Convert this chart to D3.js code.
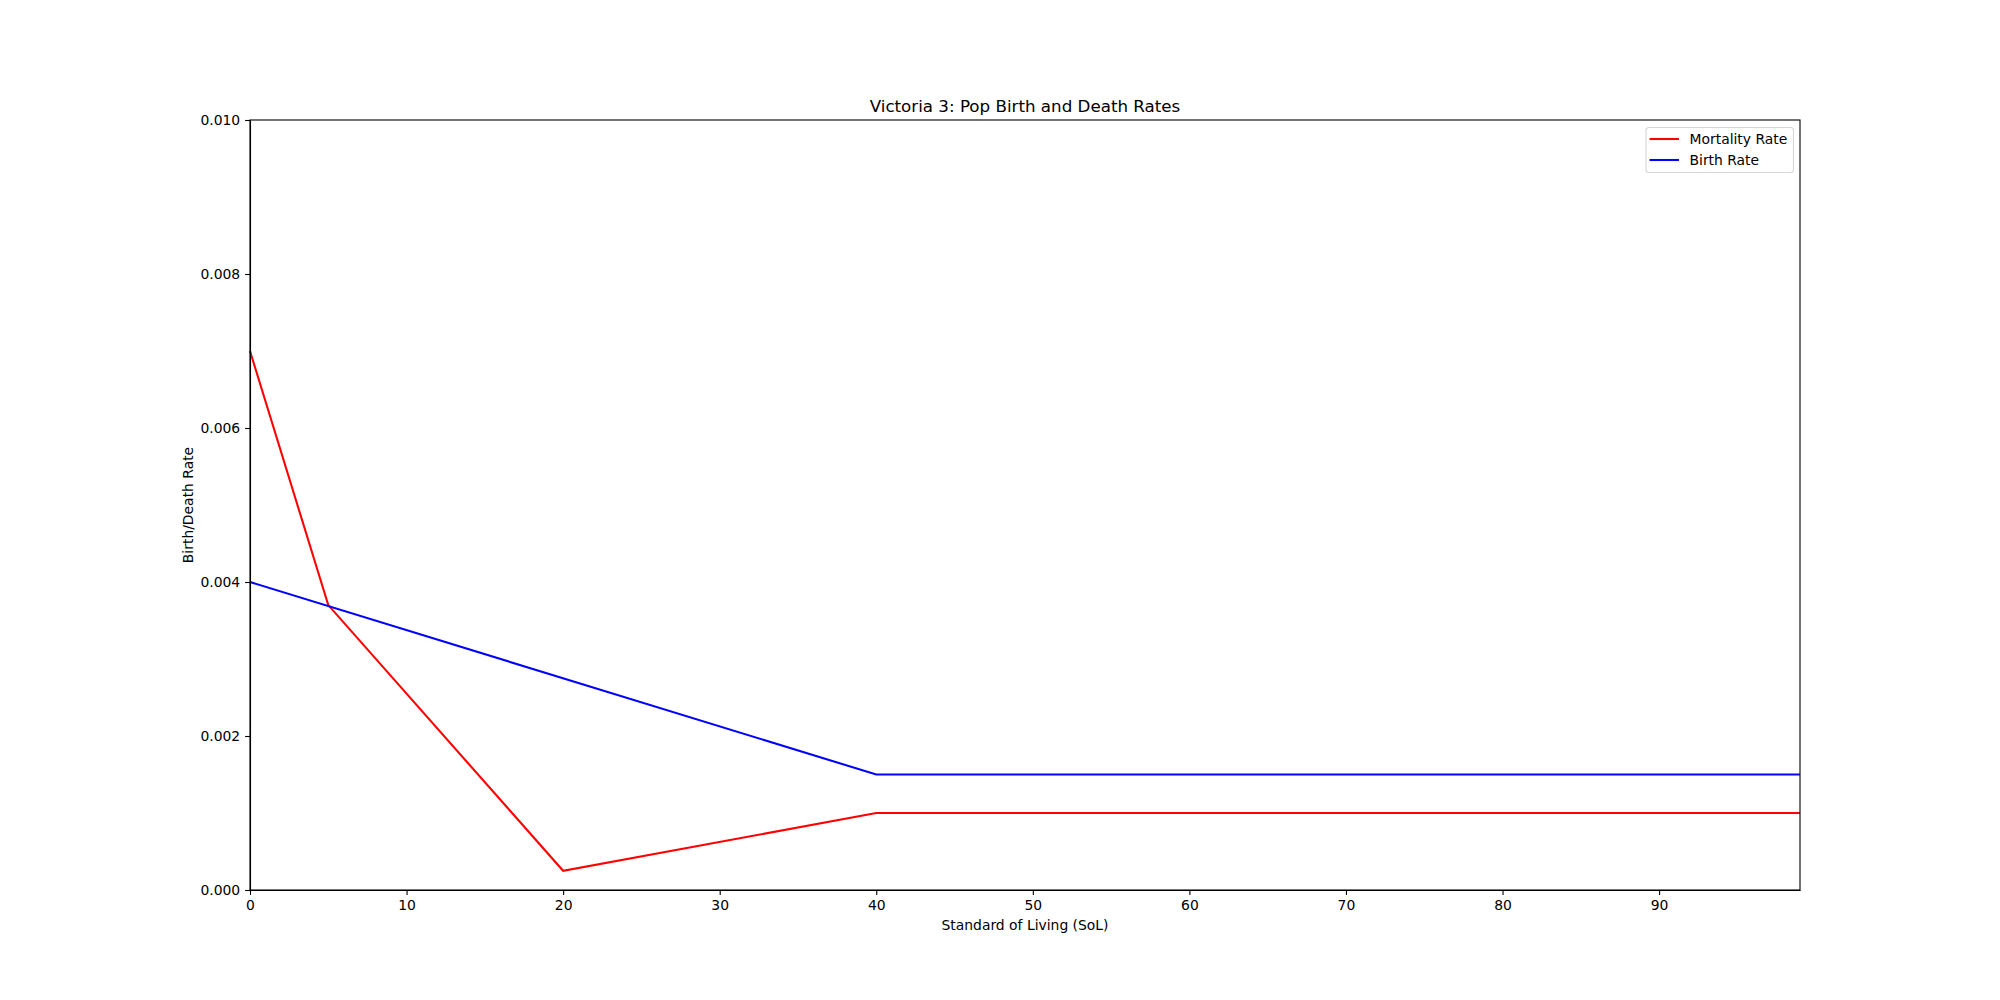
<!DOCTYPE html>
<html>
<head>
<meta charset="utf-8">
<script src="https://cdn.jsdelivr.net/npm/d3@7"></script>
<style>
  body { margin: 0; background: #fff; }
  text { font-family: "DejaVu Sans", sans-serif; fill: #000; }
  .axis path, .axis line { stroke: #000; stroke-width: 1.1; }
  .axis text { font-size: 13.9px; }
</style>
</head>
<body>
<script>
//Global variables
const width = 2000;
const height = 1000;
const plotLeft = 250, plotRight = 1800, plotTop = 120, plotBottom = 890;

//Data (SoL breakpoints, lines are straight between them)
const mortalitySoL = [0, 5, 20, 40, 99];
const mortalityRate = [0.007, 0.0037, 0.00025, 0.001, 0.001];
const birthSoL = [0, 40, 99];
const birthRate = [0.004, 0.0015, 0.0015];
const xTicks = [0, 10, 20, 30, 40, 50, 60, 70, 80, 90];
const yTicks = [0, 0.002, 0.004, 0.006, 0.008, 0.010];

const mortality = mortalitySoL.map((s, i) => ({sol: s, rate: mortalityRate[i]}));
const birth = birthSoL.map((s, i) => ({sol: s, rate: birthRate[i]}));

//Scales
const xScale = d3.scaleLinear().domain([0, 99]).range([plotLeft, plotRight]);
const yScale = d3.scaleLinear().domain([0, 0.01]).range([plotBottom, plotTop]);

//SVG element
const svg = d3.select("body")
    .append("svg")
    .attr("width", width)
    .attr("height", height);

//Lines
const line = d3.line()
    .x(d => xScale(d.sol))
    .y(d => yScale(d.rate));

svg.append("path")
    .datum(mortality)
    .attr("d", line)
    .attr("fill", "none")
    .attr("stroke", "#ff0000")
    .attr("stroke-width", 2.08);

svg.append("path")
    .datum(birth)
    .attr("d", line)
    .attr("fill", "none")
    .attr("stroke", "#0000ff")
    .attr("stroke-width", 2.08);

//Axes
const bottomAxis = d3.axisBottom(xScale)
    .tickValues(xTicks)
    .tickSize(4.9)
    .tickPadding(4.9)
    .tickSizeOuter(0);

const leftAxis = d3.axisLeft(yScale)
    .tickValues(yTicks)
    .tickFormat(d3.format(".3f"))
    .tickSize(4.9)
    .tickPadding(4.9)
    .tickSizeOuter(0);

svg.append("g")
    .attr("class", "axis")
    .attr("transform", "translate(0," + plotBottom + ")")
    .call(bottomAxis);

svg.append("g")
    .attr("class", "axis")
    .attr("transform", "translate(" + plotLeft + ",0)")
    .call(leftAxis);

//Frame (all four spines)
svg.append("rect")
    .attr("x", plotLeft)
    .attr("y", plotTop)
    .attr("width", plotRight - plotLeft)
    .attr("height", plotBottom - plotTop)
    .attr("fill", "none")
    .attr("stroke", "#000")
    .attr("stroke-width", 1.1);

//Title and labels
svg.append("text")
    .attr("x", (plotLeft + plotRight) / 2)
    .attr("y", 111.5)
    .attr("text-anchor", "middle")
    .style("font-size", "16.7px")
    .text("Victoria 3: Pop Birth and Death Rates");

svg.append("text")
    .attr("x", (plotLeft + plotRight) / 2)
    .attr("y", 930)
    .attr("text-anchor", "middle")
    .style("font-size", "13.9px")
    .text("Standard of Living (SoL)");

svg.append("text")
    .attr("transform", "translate(193," + (plotTop + plotBottom) / 2 + ") rotate(-90)")
    .attr("text-anchor", "middle")
    .style("font-size", "13.9px")
    .text("Birth/Death Rate");

//Legend
const legendItems = [
    {label: "Mortality Rate", color: "#ff0000"},
    {label: "Birth Rate", color: "#0000ff"}
];

const legend = svg.append("g").attr("transform", "translate(1646,127.5)");

legend.append("rect")
    .attr("width", 147.5)
    .attr("height", 45)
    .attr("rx", 3)
    .attr("fill", "#fff")
    .attr("fill-opacity", 0.8)
    .attr("stroke", "#d6d6d6")
    .attr("stroke-width", 1.1);

legendItems.forEach((item, i) => {
    const yy = 11.5 + i * 21;
    legend.append("line")
        .attr("x1", 3.5)
        .attr("x2", 33)
        .attr("y1", yy)
        .attr("y2", yy)
        .attr("stroke", item.color)
        .attr("stroke-width", 2.08);
    legend.append("text")
        .attr("x", 43.5)
        .attr("y", yy + 4.8)
        .style("font-size", "13.9px")
        .text(item.label);
});
</script>
</body>
</html>
